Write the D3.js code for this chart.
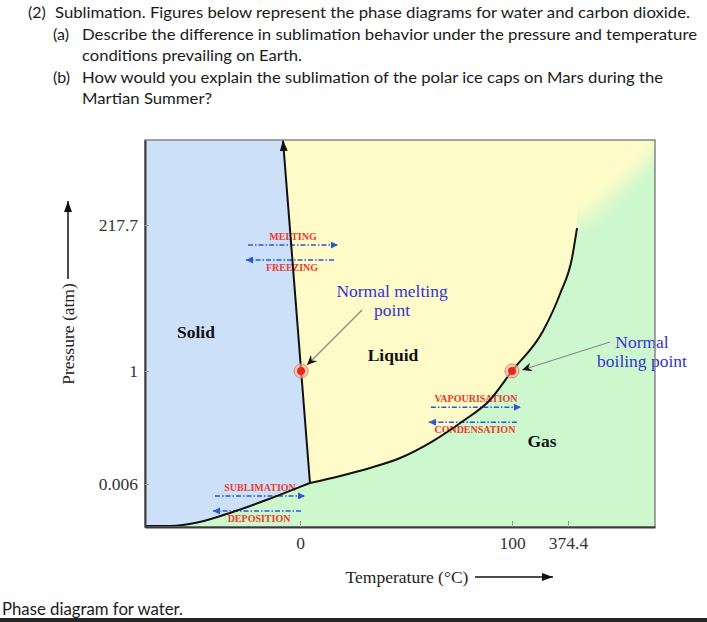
<!DOCTYPE html>
<html>
<head>
<meta charset="utf-8">
<script src="https://cdn.jsdelivr.net/npm/d3@7"></script>
<style>
  body { margin: 0; background: #fff; }
  svg { display: block; }
</style>
</head>
<body>
<svg id="drawing_region"></svg>
<script>
// question text above the figure
const questionLines = [
    { label: "(2)", text: "Sublimation. Figures below represent the phase diagrams for water and carbon dioxide." },
    { label: "(a)", text: "Describe the difference in sublimation behavior under the pressure and temperature" },
    { label: "",    text: "conditions prevailing on Earth." },
    { label: "(b)", text: "How would you explain the sublimation of the polar ice caps on Mars during the" },
    { label: "",    text: "Martian Summer?" }
];
const caption = "Phase diagram for water.";

// axis ticks
const tempTicks = [0, 100, 374.4];
const pressureTicks = [0.006, 1, 217.7];
// the diagram is not to scale: piecewise axes between these break points
const tempBreaks = [-30, 0, 100, 374.4, 500];
const pressureBreaks = [0, 0.006, 1, 217.7, 400];

// phase boundaries as [T (°C), P (atm)]
const sublimationCurve = [[-30, 0.00014], [-25.2, 0.00014], [-19.4, 0.0007], [-13, 0.0021],
                          [-6.4, 0.0038], [0, 0.0056], [4.7, 0.0148]];
const meltingCurve = [[4.7, 0.0148], [-3.3, 400]];
const vaporizationCurve = [[4.7, 0.0148], [18.9, 0.0764], [33, 0.1468], [47.2, 0.235], [62.7, 0.384],
                           [76.9, 0.56], [89.6, 0.745], [100, 1], [251.9, 60.4], [335.2, 115.3],
                           [380.2, 168.7], [387.4, 213.2]];
// soft liquid/gas border past the critical point
const supercriticalEdge = [[387.4, 213.2], [500, 368]];

const normalPoints = [
    { lines: ["Normal melting", "point"], T: 0.5, P: 1 },
    { lines: ["Normal", "boiling point"], T: 100, P: 1 }
];

const phaseNames = ["Solid", "Liquid", "Gas"];
const processes = [
    { T: -1.55, P: 177.6, forward: "MELTING", backward: "FREEZING" },
    { T: 82.5, P: 0.62, forward: "VAPOURISATION", backward: "CONDENSATION" },
    { T: -7.93, P: 0.00335, forward: "SUBLIMATION", backward: "DEPOSITION" }
];

class PhaseDiagram {

    constructor( config ) {
        this.config = {
            parent: config.parent,
            width: config.width || 707,
            height: config.height || 622,
            margin: config.margin || { top: 140, left: 145 },
            inner_width: config.inner_width || 510,
            inner_height: config.inner_height || 387
        };
        this.init();
    }

    init() {
        let self = this;
        const c = self.config;

        self.svg = d3.select( c.parent )
            .attr('width', c.width)
            .attr('height', c.height);

        self.defs = self.svg.append('defs');

        self.xscale = d3.scaleLinear()
            .domain( tempBreaks )
            .range( [0, 155, 367, 423, c.inner_width] );

        self.yscale = d3.scaleLinear()
            .domain( pressureBreaks )
            .range( [c.inner_height, 344, 231, 85, 0] );

        self.xaxis = d3.axisBottom( self.xscale )
            .tickValues( tempTicks )
            .tickFormat( d => d )
            .tickSizeInner( -6 )
            .tickSizeOuter( 0 )
            .tickPadding( 10 );

        self.yaxis = d3.axisLeft( self.yscale )
            .tickValues( pressureTicks )
            .tickFormat( d => d )
            .tickSizeInner( -4 )
            .tickSizeOuter( 0 )
            .tickPadding( 7 );

        self.chart = self.svg.append('g')
            .attr('transform', `translate(${c.margin.left}, ${c.margin.top})`);

        self.addMarker('head-black', 'M0,0 L11,4 L0,8 z', '#111', 11, 8);
        self.addMarker('head-pointer', 'M0,0 L10,4.5 L0,9 L3.5,4.5 z', '#111', 10, 9);
        self.addMarker('head-blue', 'M0,0 L7,3.5 L0,7 z', '#2f55d0', 7, 7);

        const blur = self.defs.append('filter')
            .attr('id', 'soft')
            .attr('x', '-50%').attr('y', '-50%')
            .attr('width', '200%').attr('height', '200%');
        blur.append('feGaussianBlur').attr('stdDeviation', 9);
    }

    addMarker( id, path, color, w, h ) {
        this.defs.append('marker')
            .attr('id', id)
            .attr('markerUnits', 'userSpaceOnUse')
            .attr('viewBox', `0 0 ${w} ${h}`)
            .attr('markerWidth', w)
            .attr('markerHeight', h)
            .attr('refX', w)
            .attr('refY', h / 2)
            .attr('orient', 'auto')
            .append('path')
            .attr('d', path)
            .attr('fill', color);
    }

    render() {
        let self = this;
        const c = self.config;
        const xs = self.xscale, ys = self.yscale;
        const tMin = tempBreaks[0];
        const pMin = pressureBreaks[0], pMax = pressureBreaks[pressureBreaks.length - 1];

        const line = d3.line().x( d => xs(d[0]) ).y( d => ys(d[1]) );
        const smooth = d3.line().x( d => xs(d[0]) ).y( d => ys(d[1]) ).curve( d3.curveMonotoneX );
        const above = d3.area().x( d => xs(d[0]) ).y0( d => ys(d[1]) ).y1( ys(pMax) )
            .curve( d3.curveMonotoneX );

        // clip paths
        self.defs.append('clipPath').attr('id', 'plot-clip')
            .append('rect').attr('width', c.inner_width).attr('height', c.inner_height);
        const triple = meltingCurve[0], meltTop = meltingCurve[1];
        self.defs.append('clipPath').attr('id', 'solid-clip')
            .append('path')
            .attr('d', line([[tMin, pMax], meltTop, triple, [triple[0], pMin], [tMin, pMin]]) + 'Z');

        // phase regions
        const regions = self.chart.append('g').attr('clip-path', 'url(#plot-clip)');
        regions.append('rect')
            .attr('width', c.inner_width).attr('height', c.inner_height)
            .attr('fill', '#cdf7cd');
        regions.append('path')
            .attr('d', above( sublimationCurve.concat( vaporizationCurve.slice(1) ) ))
            .attr('fill', '#fefbc9');
        const crit = supercriticalEdge[0], edge = supercriticalEdge[1];
        regions.append('path')
            .attr('d', line([crit, edge, [edge[0] + 40, pMax + 60], [crit[0] - 50, pMax + 60], [crit[0] - 50, crit[1] + 40]]) + 'Z')
            .attr('fill', '#fefbc9')
            .attr('filter', 'url(#soft)');
        regions.append('path')
            .attr('d', above( sublimationCurve ))
            .attr('clip-path', 'url(#solid-clip)')
            .attr('fill', '#cde0fa');

        // region names
        const namePos = [[51, 198], [248, 221], [397, 307]];
        self.chart.selectAll('.phase')
            .data(phaseNames)
            .enter()
            .append('text')
            .attr('class', 'phase')
            .attr('x', (d, i) => namePos[i][0])
            .attr('y', (d, i) => namePos[i][1])
            .attr('text-anchor', 'middle')
            .style('font-family', '"Liberation Serif", "DejaVu Serif", serif')
            .style('font-weight', 'bold')
            .style('font-size', '17.5px')
            .style('fill', '#111')
            .text( d => d );

        // process arrows
        const proc = self.chart.selectAll('.process')
            .data(processes)
            .enter()
            .append('g')
            .attr('class', 'process')
            .attr('transform', d => `translate(${xs(d.T)}, ${ys(d.P)})`);
        const redText = sel => sel
            .attr('text-anchor', 'middle')
            .style('font-family', '"Liberation Serif", "DejaVu Serif", serif')
            .style('font-weight', 'bold')
            .style('font-size', '10px')
            .style('fill', '#ef3a2c');
        const dashed = sel => sel
            .attr('stroke', '#2f55d0')
            .attr('stroke-width', 1.6)
            .attr('stroke-dasharray', '5,2,1.5,2')
            .attr('marker-end', 'url(#head-blue)');
        proc.append('text').attr('x', 1).attr('y', -12).text( d => d.forward ).call(redText);
        proc.append('line').attr('x1', -44).attr('x2', 46).attr('y1', -7).attr('y2', -7).call(dashed);
        proc.append('line').attr('x1', 42).attr('x2', -46).attr('y1', 8).attr('y2', 8).call(dashed);
        proc.append('text').attr('x', 0).attr('y', 19).text( d => d.backward ).call(redText);

        // phase boundaries
        const curves = self.chart.append('g')
            .attr('fill', 'none')
            .attr('stroke', '#111')
            .attr('stroke-width', 2);
        curves.append('path').attr('d', smooth(sublimationCurve));
        curves.append('path').attr('d', smooth(vaporizationCurve));
        curves.append('path').attr('d', line(meltingCurve)).attr('marker-end', 'url(#head-black)');

        // normal melting / boiling points
        const labelPos = [{ dx: 91, dy: -74, sx: 61, sy: -61, tx: 6, ty: -6 },
                          { dx: 130, dy: -23, sx: 98, sy: -29, tx: 10, ty: -1 }];
        const pts = self.chart.selectAll('.normal')
            .data(normalPoints)
            .enter()
            .append('g')
            .attr('class', 'normal')
            .attr('transform', d => `translate(${xs(d.T)}, ${ys(d.P)})`);
        pts.append('circle').attr('r', 7)
            .attr('fill', '#f7b7a8').attr('fill-opacity', 0.6)
            .attr('stroke', '#f07a68').attr('stroke-width', 1);
        pts.append('circle').attr('r', 4).attr('fill', '#e8281a');
        pts.append('line')
            .attr('x1', (d, i) => labelPos[i].sx).attr('y1', (d, i) => labelPos[i].sy)
            .attr('x2', (d, i) => labelPos[i].tx).attr('y2', (d, i) => labelPos[i].ty)
            .attr('stroke', '#8a8a8a').attr('stroke-width', 1.2)
            .attr('marker-end', 'url(#head-pointer)');
        pts.each( function(d, i) {
            d3.select(this).selectAll('text')
                .data(d.lines)
                .enter()
                .append('text')
                .attr('x', labelPos[i].dx)
                .attr('y', (s, j) => labelPos[i].dy + j * 18.5)
                .attr('text-anchor', 'middle')
                .style('font-family', '"Liberation Serif", "DejaVu Serif", serif')
                .style('font-size', '17.5px')
                .style('fill', '#3434cf')
                .text( s => s );
        });

        // frame and axes
        self.chart.append('rect')
            .attr('width', c.inner_width).attr('height', c.inner_height)
            .attr('fill', 'none').attr('stroke', '#858585').attr('stroke-width', 1.5);

        const styleAxis = g => {
            g.select('.domain').attr('stroke', '#3a3a3a').attr('stroke-width', 2);
            g.selectAll('.tick line').attr('stroke', '#9a9a9a');
            g.selectAll('.tick text')
                .style('font-family', '"Liberation Serif", "DejaVu Serif", serif')
                .style('font-size', '17.5px')
                .style('fill', '#333');
        };
        self.chart.append('g')
            .attr('transform', `translate(0, ${c.inner_height})`)
            .call( self.xaxis )
            .call( styleAxis );
        self.chart.append('g')
            .call( self.yaxis )
            .call( styleAxis );

        // axis titles with their arrows
        const serif = sel => sel
            .style('font-family', '"Liberation Serif", "DejaVu Serif", serif')
            .style('font-size', '17.5px')
            .style('fill', '#222');
        self.svg.append('text')
            .attr('x', 407).attr('y', 583)
            .attr('text-anchor', 'middle')
            .text('Temperature (\u00B0C)')
            .call(serif);
        self.svg.append('line')
            .attr('x1', 475).attr('x2', 553).attr('y1', 577).attr('y2', 577)
            .attr('stroke', '#111').attr('stroke-width', 1.5)
            .attr('marker-end', 'url(#head-black)');
        self.svg.append('text')
            .attr('transform', 'translate(74, 334) rotate(-90)')
            .attr('text-anchor', 'middle')
            .text('Pressure (atm)')
            .call(serif);
        self.svg.append('line')
            .attr('x1', 68).attr('x2', 68).attr('y1', 279).attr('y2', 201)
            .attr('stroke', '#111').attr('stroke-width', 1.5)
            .attr('marker-end', 'url(#head-black)');

        // question text and caption
        const sans = sel => sel
            .style('font-family', 'Lato, "Open Sans", sans-serif')
            .style('font-size', '16px')
            .style('fill', '#1a1a1a');
        const lineY = [18, 40, 61, 83, 104];
        const textX = [55, 82, 82, 82, 82];
        const labelX = [28, 53, 53, 53, 53];
        const textW = [635, 615, 220, 581, 130];
        const q = self.svg.append('g');
        q.selectAll('.qlabel')
            .data(questionLines)
            .enter()
            .append('text')
            .attr('class', 'qlabel')
            .attr('x', (d, i) => labelX[i])
            .attr('y', (d, i) => lineY[i])
            .text( d => d.label )
            .call(sans);
        q.selectAll('.qtext')
            .data(questionLines)
            .enter()
            .append('text')
            .attr('class', 'qtext')
            .attr('x', (d, i) => textX[i])
            .attr('y', (d, i) => lineY[i])
            .attr('textLength', (d, i) => textW[i])
            .attr('lengthAdjust', 'spacingAndGlyphs')
            .text( d => d.text )
            .call(sans);

        self.svg.append('text')
            .attr('x', 2).attr('y', 615)
            .attr('textLength', 181)
            .attr('lengthAdjust', 'spacingAndGlyphs')
            .text(caption)
            .call(sans)
            .style('font-size', '17px');

        self.svg.append('rect')
            .attr('x', 0).attr('y', 618)
            .attr('width', c.width).attr('height', 4)
            .attr('fill', '#262626');
    }
}

const diagram = new PhaseDiagram({ parent: '#drawing_region' });
diagram.render();
</script>
</body>
</html>
